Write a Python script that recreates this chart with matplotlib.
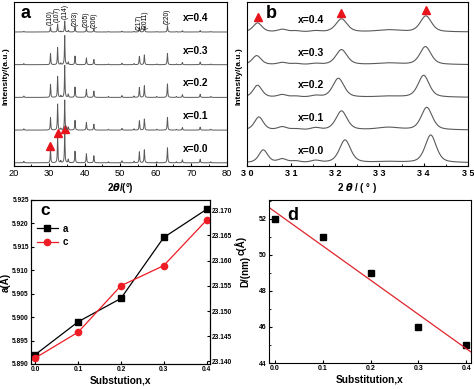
import numpy as np
import matplotlib
matplotlib.use("Agg")
import matplotlib.pyplot as plt
from matplotlib.ticker import MultipleLocator, FormatStrFormatter

plt.rcParams['font.family'] = ['Liberation Sans', 'DejaVu Sans']
plt.rcParams['font.weight'] = 'bold'
plt.rcParams['axes.labelweight'] = 'bold'
plt.rcParams['xtick.direction'] = 'in'
plt.rcParams['ytick.direction'] = 'in'
plt.rcParams['axes.linewidth'] = 0.8

samples = ["x=0.0", "x=0.1", "x=0.2", "x=0.3", "x=0.4"]

# --- panel a: XRD 20-80 deg ---
# main reflections (110), (107), (114), heights per sample
a_main_pos = [30.4, 32.4, 34.4]
a_main_h = [[14, 27, 31],
            [12.5, 26, 30],
            [13, 21, 32],
            [11, 17, 29],
            [5, 8, 11]]
# weaker reflections, heights for x=0.0, scaled per sample
a_minor_pos = [22.9, 33.3, 35.4, 37.3, 40.5, 42.6, 46.7, 50.5, 53.9,
               55.4, 56.8, 60.3, 63.3, 65.8, 67.5, 72.5, 75.5]
a_minor_h = [1.5, 2, 3.5, 11.5, 9, 7, 1, 2, 1.5,
             11, 13, 1, 15, 1, 3, 3.5, 1]
a_minor_scale = [1.0, 0.85, 0.9, 0.75, 0.42]
hkl_labels = ["(110)", "(107)", "(114)", "(203)", "(205)", "(206)", "(217)", "(2011)", "(220)"]
hkl_pos = [30.4, 32.4, 34.4, 37.3, 40.5, 42.6, 55.2, 57.0, 63.3]

# --- panel b: zoom 30-35 deg ---
b_p1_pos = [30.37, 30.27, 30.24, 30.22, 30.24]
b_p1_h = [12.7, 13, 12, 9, 9]
b_p2_pos = [32.22, 32.14, 32.07, 32.14, 32.14]
b_p2_h = [22.7, 19, 19, 15, 13]
b_p3_pos = [34.16, 34.07, 34.0, 34.04, 34.05]
b_p3_h = [27.7, 22.6, 22, 18, 16]
b_bump_pos = [30.8, 31.1, 31.55, 33.2]
b_bump_h = [[3.5, 1.5, 2, 1],
            [3, 1, 2, 2.5],
            [2.5, 1, 1.5, 1],
            [2, 1, 1, 1.5],
            [2.5, 1, 1, 2]]

# --- panel c: lattice parameters ---
subst = [0.0, 0.1, 0.2, 0.3, 0.4]
a_param = [5.892, 5.899, 5.904, 5.917, 5.923]
c_param = [23.1407, 23.1458, 23.155, 23.159, 23.168]

# --- panel d: crystallite size ---
d_size = [52, 51, 49, 46, 45]

gray = '#5a5a5a'
tri_red = '#e8141c'


def lor(x, pos, h, w):
    return h * w**2 / ((x - pos)**2 + w**2)


def pv(x, pos, h, w):
    g = np.exp(-np.log(2) * ((x - pos) / w)**2)
    return h * (0.5 * g + 0.5 * w**2 / ((x - pos)**2 + w**2))


fig = plt.figure(figsize=(4.74, 3.89), dpi=100)
ax_a = fig.add_axes([0.0285, 0.573, 0.450, 0.4216])
ax_b = fig.add_axes([0.521, 0.573, 0.466, 0.4216])
ax_c = fig.add_axes([0.0654, 0.0643, 0.3776, 0.4216])
ax_d = fig.add_axes([0.5675, 0.0668, 0.4262, 0.419])

step = 32.7
base0 = 3.3

# panel a
xa = np.arange(20, 80.001, 0.01)
top_trace = None
for i, name in enumerate(samples):
    off = base0 + i * step
    y = np.full_like(xa, off)
    for p, h in zip(a_main_pos, a_main_h[i]):
        y += lor(xa, p, h, 0.09)
    for p, h in zip(a_minor_pos, a_minor_h):
        y += lor(xa, p, h * a_minor_scale[i], 0.1)
    ax_a.plot(xa, y, color=gray, lw=0.7)
    ax_a.text(71.3, off + 14, name, fontsize=7.3, ha='center', va='center')
    if i == 0:
        for p in a_main_pos:
            ax_a.plot(p, np.interp(p, xa, y) + 2.5, marker='^', color=tri_red,
                      ms=6, ls='none')
    top_trace = y
for lab, p in zip(hkl_labels, hkl_pos):
    ax_a.text(p, np.interp(p, xa, top_trace) + 1.5, lab, rotation=90, fontsize=4.8,
              fontweight='normal', ha='center', va='bottom')
ax_a.set_xlim(20, 80)
ax_a.set_ylim(0, 164)
ax_a.set_yticks([])
ax_a.xaxis.set_major_locator(MultipleLocator(10))
ax_a.xaxis.set_minor_locator(MultipleLocator(5))
ax_a.tick_params(axis='x', labelsize=6.7, length=2.5, pad=2)
ax_a.tick_params(axis='x', which='minor', length=1.5)
for t in ax_a.get_xticklabels():
    t.set_fontweight('normal')
ax_a.set_xlabel(r'2$\theta$/(°)', fontsize=7, labelpad=2)
ax_a.set_ylabel('Intensity/(a.u.)', fontsize=6)
ax_a.yaxis.set_label_coords(-0.021, 0.55)
ax_a.text(0.057, 0.933, 'a', transform=ax_a.transAxes, fontsize=13,
          ha='center', va='center')

# panel b
xb = np.arange(30, 35.001, 0.005)
for i, name in enumerate(samples):
    off = base0 + i * step
    y = np.full_like(xb, off)
    y += pv(xb, b_p1_pos[i], b_p1_h[i], 0.12)
    y += pv(xb, b_p2_pos[i], b_p2_h[i], 0.15)
    y += pv(xb, b_p3_pos[i], b_p3_h[i], 0.15)
    for p, h in zip(b_bump_pos, b_bump_h[i]):
        y += pv(xb, p, h, 0.12 if p < 33 else 0.3)
    ax_b.plot(xb, y, color=gray, lw=0.8)
    ax_b.text(31.45, off + 12, name, fontsize=7.5, ha='center', va='center')
    if i == len(samples) - 1:
        for p in [b_p1_pos[i], b_p2_pos[i], b_p3_pos[i]]:
            ax_b.plot(p, np.interp(p, xb, y) + 6, marker='^', color=tri_red,
                      ms=6, ls='none')
ax_b.set_xlim(30, 35)
ax_b.set_ylim(0, 164)
ax_b.set_yticks([])
ax_b.set_xticks([30, 31, 32, 33, 34, 35])
ax_b.set_xticklabels(['3 0', '3 1', '3 2', '3 3', '3 4', '3 5'])
ax_b.xaxis.set_minor_locator(MultipleLocator(0.5))
ax_b.tick_params(axis='x', labelsize=6.5, length=2.5, pad=2)
ax_b.tick_params(axis='x', which='minor', length=1.5)
ax_b.set_xlabel(r'2 $\theta$ / ( ° )', fontsize=7, labelpad=2)
ax_b.set_ylabel('Intensity/(a.u.)', fontsize=6)
ax_b.yaxis.set_label_coords(-0.018, 0.55)
ax_b.text(0.112, 0.931, 'b', transform=ax_b.transAxes, fontsize=13,
          ha='center', va='center')

# panel c
la, = ax_c.plot(subst, a_param, color='black', marker='s', ms=4.5, lw=0.9, label='a')
ax_c2 = ax_c.twinx()
lc, = ax_c2.plot(subst, c_param, color='#ee1c24', marker='o', ms=4.5, lw=0.9, label='c')
ax_c.set_xlim(-0.01, 0.408)
ax_c.set_ylim(5.890, 5.925)
ax_c2.set_ylim(23.1395, 23.172)
ax_c.set_xticks(subst)
ax_c.xaxis.set_major_formatter(FormatStrFormatter('%.1f'))
ax_c.yaxis.set_major_locator(MultipleLocator(0.005))
ax_c.yaxis.set_major_formatter(FormatStrFormatter('%.3f'))
ax_c2.yaxis.set_major_locator(MultipleLocator(0.005))
ax_c2.yaxis.set_major_formatter(FormatStrFormatter('%.3f'))
ax_c.tick_params(labelsize=4.8, length=2, pad=1.5)
ax_c2.tick_params(labelsize=4.8, length=2, pad=1.5)
ax_c.set_xlabel('Substution,x', fontsize=7.3, labelpad=1.5)
ax_c.set_ylabel('a(Å)', fontsize=7)
ax_c.yaxis.set_label_coords(-0.112, 0.5)
ax_c2.set_ylabel('c(Å)', fontsize=7)
ax_c2.yaxis.set_label_coords(1.136, 0.72)
ax_c.legend(handles=[la, lc], loc='upper left', bbox_to_anchor=(0.01, 0.88),
            frameon=False, fontsize=7, handlelength=2.2, handletextpad=0.5,
            labelspacing=0.35, borderaxespad=0)
ax_c.text(0.078, 0.933, 'c', transform=ax_c.transAxes, fontsize=12.5,
          ha='center', va='center')

# panel d
ax_d.plot(subst, d_size, ls='none', marker='s', color='black', ms=4)
ax_d.set_xlim(-0.0125, 0.41)
ax_d.set_ylim(44, 53.05)
coef = np.polyfit(subst, d_size, 1)
xf = np.array(ax_d.get_xlim())
ax_d.plot(xf, np.polyval(coef, xf), color='#e0242c', lw=0.9)
ax_d.set_xticks(subst)
ax_d.xaxis.set_major_formatter(FormatStrFormatter('%.1f'))
ax_d.yaxis.set_major_locator(MultipleLocator(2))
ax_d.yaxis.set_minor_locator(MultipleLocator(1))
ax_d.tick_params(labelsize=5, length=2, pad=1.5)
ax_d.tick_params(which='minor', length=1.2)
ax_d.set_xlabel('Substitution,x', fontsize=7.3, labelpad=1.5)
ax_d.set_ylabel('D/(nm)', fontsize=7)
ax_d.yaxis.set_label_coords(-0.094, 0.56)
ax_d.text(0.12, 0.908, 'd', transform=ax_d.transAxes, fontsize=13,
          ha='center', va='center')

fig.savefig('out.png', dpi=100)
